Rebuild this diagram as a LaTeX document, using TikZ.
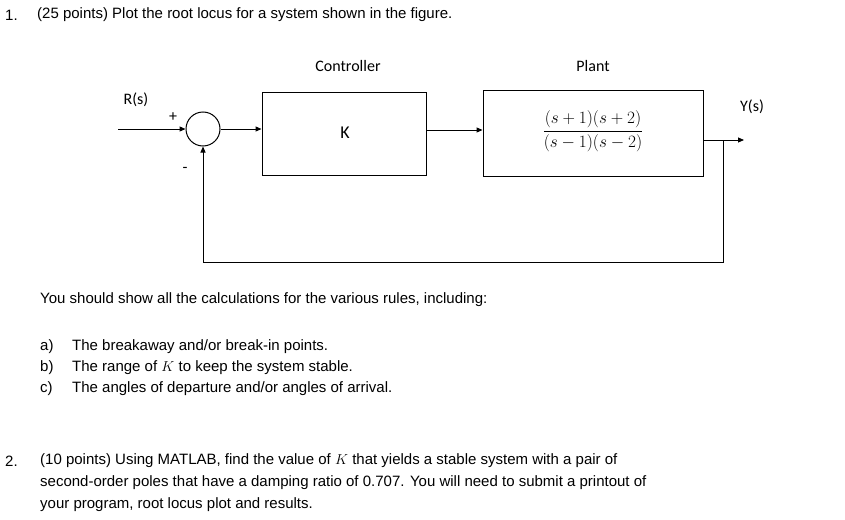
\documentclass[tikz,border=0pt]{standalone}
\usepackage{fontspec}
\setmainfont{Liberation Sans}
\newfontfamily\carlitofam{Carlito}
\usetikzlibrary{arrows.meta}
\begin{document}
\begin{tikzpicture}[x=1pt,y=-1pt,
  txt/.style={anchor=west,inner sep=0pt,font=\fontsize{15}{18}\selectfont},
  lbl/.style={inner sep=0pt,font=\carlitofam\fontsize{16}{19}\selectfont},
  blk/.style={draw,line width=1pt},
  sig/.style={line width=1pt,-{Triangle[length=6pt,width=5pt]}},
  wire/.style={line width=1pt}]
\useasboundingbox (0,0) rectangle (845,519);
\node[txt] (t1) at (5,15) {1.};
\node[txt] (t1b) at (37,15) {(25 points) Plot the root locus for a system shown in the figure.};
% diagram
\node[lbl] (ctl) at (348,66) {Controller};
\node[lbl] (pl) at (593,66) {Plant};
\node[lbl] (r) at (136,100) {R(s)};
\node[lbl] (y) at (752,107) {Y(s)};
\node[draw,circle,line width=1pt,minimum size=34pt,inner sep=0pt] (sum) at (203,129) {};
\node[lbl] (plus) at (173,117) {+};
\node[lbl] (minus) at (185,170) {-};
\node[blk,minimum width=164pt,minimum height=83pt] (K) at (344,133.5) {};
\node[lbl,font=\carlitofam\fontsize{18}{20}\selectfont] (Kt) at (345,133) {K};
\node[blk,minimum width=220pt,minimum height=86pt] (P) at (593,133) {};
\node[inner sep=0pt,font=\fontsize{19}{22}\selectfont] (Pt) at (593,131) {$\displaystyle\frac{(s+1)(s+2)}{(s-1)(s-2)}$};
\coordinate (in) at (118,129);
\coordinate (out) at (744,140);
\coordinate (tap) at (723,140);
\draw[sig] (in) -- (sum.west);
\draw[sig] (sum.east) -- (K.west |- sum.east);
\draw[sig] (K.east |- 0,130) -- (P.west |- 0,130);
\draw[sig] (P.east |- tap) -- (out);
\draw[sig] (tap) -- (tap |- 0,262) -| (sum.south);
% text
\node[txt] (q) at (40,300) {You should show all the calculations for the various rules, including:};
\node[txt] (a) at (40,347) {a)};
\node[txt] (at) at (72,347) {The breakaway and/or break-in points.};
\node[txt] (b) at (40,368) {b)};
\node[txt] (bt) at (72,368) {The range of $K$ to keep the system stable.};
\node[txt] (c) at (40,389) {c)};
\node[txt] (ct) at (72,389) {The angles of departure and/or angles of arrival.};
\node[txt] (t2) at (5,461) {2.};
\node[txt] (t2a) at (40,461) {(10 points) Using MATLAB, find the value of $K$ that yields a stable system with a pair of};
\node[txt] (t2b) at (40,483) {second-order poles that have a damping ratio of 0.707. You will need to submit a printout of};
\node[txt] (t2c) at (40,505) {your program, root locus plot and results.};
\end{tikzpicture}
\end{document}
